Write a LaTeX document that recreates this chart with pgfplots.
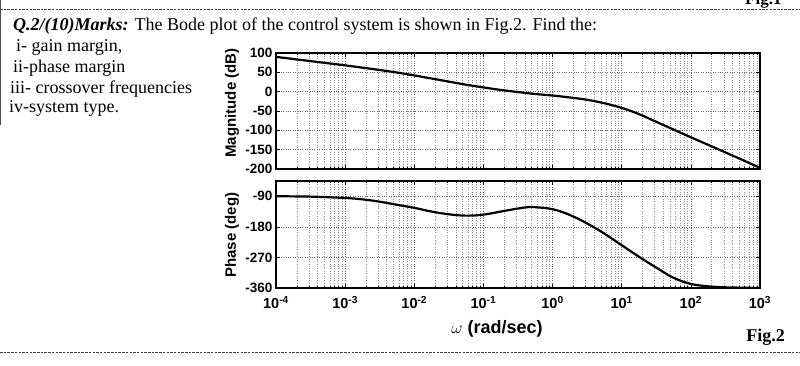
\documentclass[border=0pt]{standalone}
\usepackage{fontspec}
\setmainfont{Liberation Serif}
\setsansfont{Liberation Sans}
\usepackage{pgfplots}
\pgfplotsset{compat=1.18}
\usepackage{pgfplotstable}

\pgfplotstableread{
w db
1e-4 90
3.162e-4 79
1e-3 68
3.162e-3 56
5.623e-3 49.5
1e-2 42
1.778e-2 34
3.162e-2 26
5.623e-2 18
1e-1 11
1.778e-1 4.5
3.162e-1 -1
5.623e-1 -6
1 -10
1.778 -15
3.162 -21
5.623 -30
10 -42
17.78 -58
31.62 -78
56.23 -98
100 -118
316.2 -157
1000 -197
}\magdata

\pgfplotstableread{
w ph
1e-4 -90
3.162e-4 -91
1e-3 -95
1.778e-3 -99
3.162e-3 -106
5.623e-3 -115
1e-2 -124
1.778e-2 -135
3.162e-2 -143
5.623e-2 -147
1e-1 -144
1.778e-1 -135
3.162e-1 -126
4.6e-1 -121.5
5.623e-1 -122
1 -128
1.778 -145
3.162 -170
5.623 -200
10 -234
17.78 -268
31.62 -300
56.23 -330
100 -348
177.8 -355
316.2 -358
1000 -360
}\phdata

\begin{document}
\begin{tikzpicture}
\useasboundingbox (0,0) rectangle (800pt,365pt);
% page decorations
\draw[black!75, line width=1pt, dash pattern=on 2.5pt off 1.2pt] (0pt,355pt) -- (800pt,355pt);
\draw[black!75, line width=1pt, dash pattern=on 2.5pt off 1.2pt] (0pt,13pt) -- (800pt,13pt);
\draw[black!70, line width=1.2pt] (0.6pt,365pt) -- (0.6pt,240pt);
\node[anchor=base west, inner sep=0pt, font=\rmfamily\bfseries\fontsize{17}{18}\selectfont] at (745pt,360pt) {Fig.1};

% question text
\node[anchor=base west, inner sep=0pt, font=\rmfamily\fontsize{18}{20}\selectfont] at (13pt,334pt)
  {\textbf{\textit{Q.2/(10)Marks:}} The Bode plot of the control system is shown in Fig.2. Find the:};
\node[anchor=base west, inner sep=0pt, font=\rmfamily\fontsize{18}{20}\selectfont] at (16pt,313pt) {i- gain margin,};
\node[anchor=base west, inner sep=0pt, font=\rmfamily\fontsize{18}{20}\selectfont] at (13pt,293pt) {ii-phase margin};
\node[anchor=base west, inner sep=0pt, font=\rmfamily\fontsize{18}{20}\selectfont] at (10pt,272pt) {iii- crossover frequencies};
\node[anchor=base west, inner sep=0pt, font=\rmfamily\fontsize{18}{20}\selectfont] at (9pt,253pt) {iv-system type.};

% magnitude
\begin{axis}[
  xmode=log, xmin=1e-4, xmax=1e3,
  scale only axis, width=484pt, height=116pt,
  at={(276pt,196pt)}, anchor=south west,
  grid=both,
  major grid style={dotted, black!60, line width=0.7pt},
  minor grid style={dotted, black!45, line width=0.6pt},
  axis line style={line width=1.2pt},
  tick align=inside,
  major tick length=4pt, minor tick length=2pt,
  tick style={black, line width=0.6pt},
  xtick={1e-4,1e-3,1e-2,1e-1,1,1e1,1e2,1e3},
  ticklabel style={font=\sffamily\bfseries\fontsize{13.5}{14}\selectfont},
  ymin=-200, ymax=100,
  ytick={-200,-150,-100,-50,0,50,100},
  yticklabels={-200,-150,-100,-50,0,50,100},
  xticklabels={}]
\addplot[black, line width=2.2pt, smooth, tension=0.6] table[x=w, y=db] {\magdata};
\end{axis}

% phase
\begin{axis}[
  xmode=log, xmin=1e-4, xmax=1e3,
  scale only axis, width=484pt, height=107pt,
  at={(276pt,77pt)}, anchor=south west,
  grid=both,
  major grid style={dotted, black!60, line width=0.7pt},
  minor grid style={dotted, black!45, line width=0.6pt},
  axis line style={line width=1.2pt},
  tick align=inside,
  major tick length=4pt, minor tick length=2pt,
  tick style={black, line width=0.6pt},
  xtick={1e-4,1e-3,1e-2,1e-1,1,1e1,1e2,1e3},
  ticklabel style={font=\sffamily\bfseries\fontsize{13.5}{14}\selectfont},
  xticklabel style={yshift=-5pt, font=\sffamily\bfseries\fontsize{14.5}{15}\selectfont},
  ymin=-360, ymax=-45,
  ytick={-360,-270,-180,-90},
  yticklabels={-360,-270,-180,-90},
  xticklabels={10\textsuperscript{-4},10\textsuperscript{-3},10\textsuperscript{-2},10\textsuperscript{-1},10\textsuperscript{0},10\textsuperscript{1},10\textsuperscript{2},10\textsuperscript{3}}]
\addplot[black, line width=2.2pt, smooth, tension=0.6] table[x=w, y=ph] {\phdata};
\end{axis}

% axis labels
\node[rotate=90, font=\sffamily\bfseries\fontsize{15}{16}\selectfont] at (232pt,262pt) {Magnitude (dB)};
\node[rotate=90, font=\sffamily\bfseries\fontsize{15}{16}\selectfont] at (232pt,130pt) {Phase (deg)};
\node[font=\sffamily\bfseries\fontsize{15}{16}\selectfont] at (497pt,36pt) {\fontsize{18}{18}\selectfont$\omega$ (rad/sec)};
\node[anchor=base east, inner sep=0pt, font=\rmfamily\bfseries\fontsize{18}{20}\selectfont] at (785pt,24pt) {Fig.2};
\end{tikzpicture}
\end{document}
